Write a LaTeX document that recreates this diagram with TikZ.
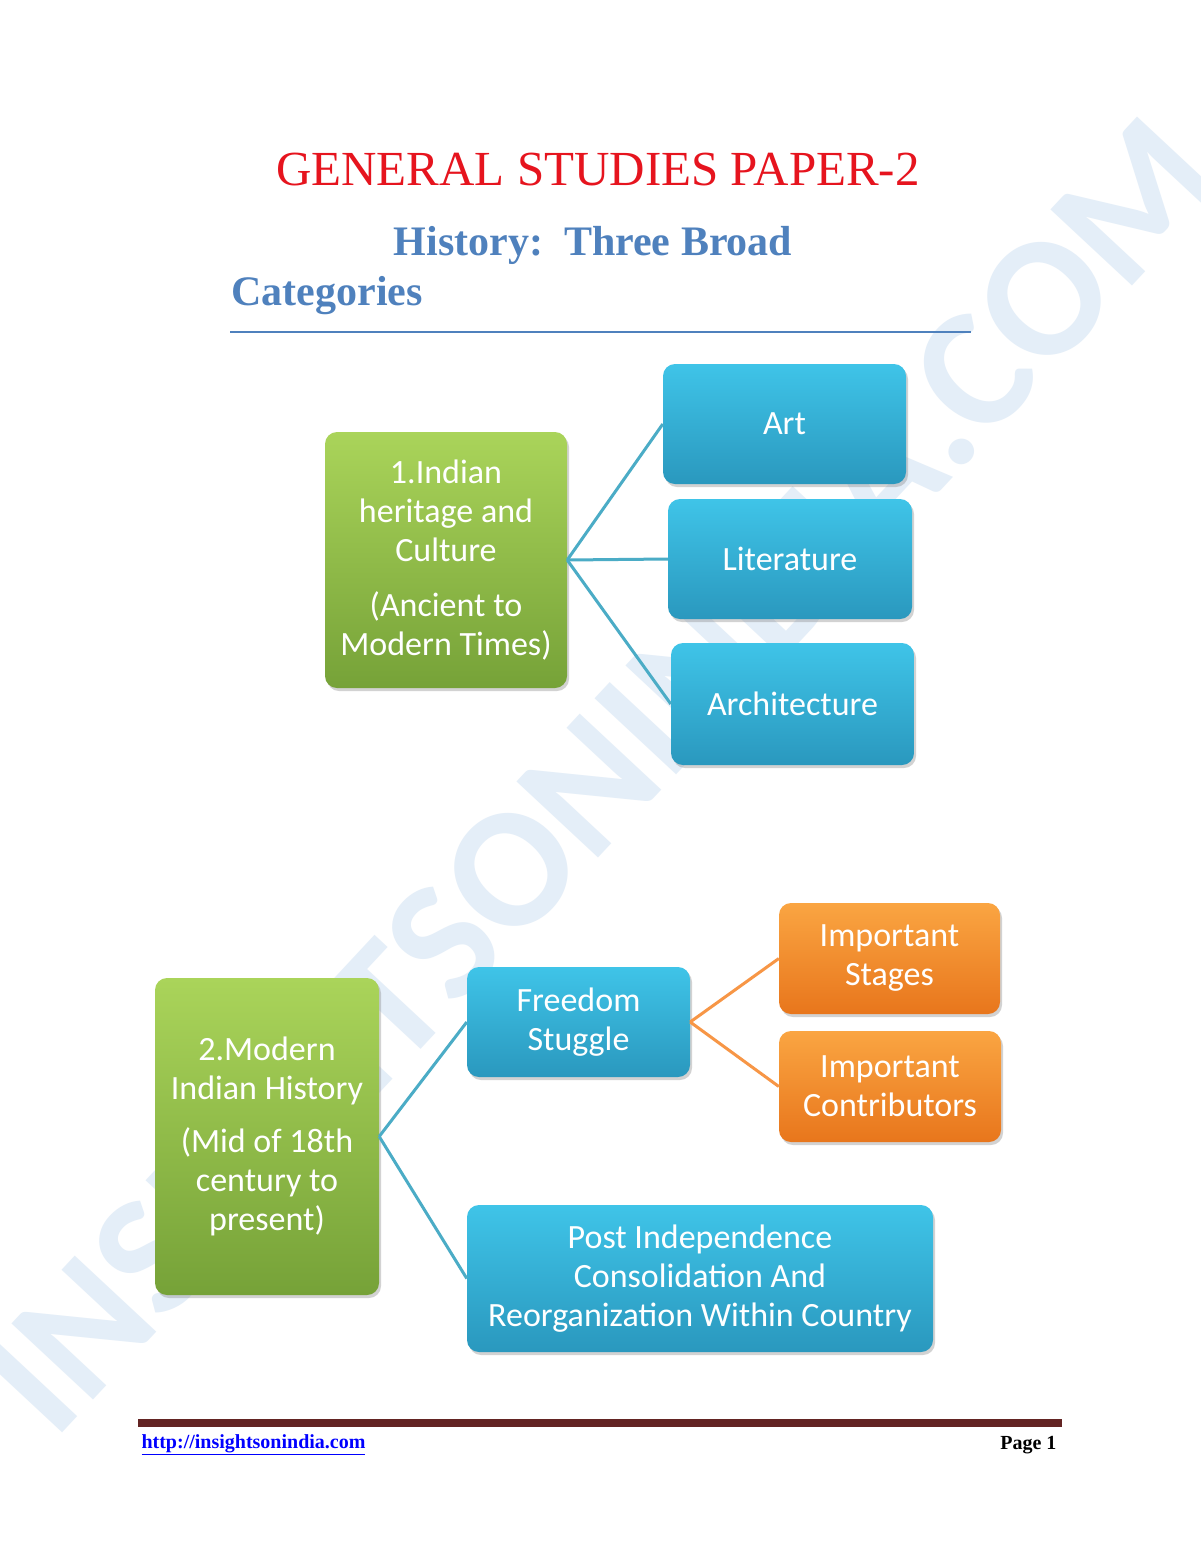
\documentclass[tikz,border=0pt]{standalone}
\usepackage{fontspec}
\setmainfont{Carlito}
\newfontfamily\serifx{Liberation Serif}
\usetikzlibrary{shadows}
\definecolor{gtop}{HTML}{AAD45A}\definecolor{gbot}{HTML}{76A238}
\definecolor{btop}{HTML}{3FC4E8}\definecolor{bbot}{HTML}{2A98BE}
\definecolor{otop}{HTML}{FAA542}\definecolor{obot}{HTML}{E8761C}
\definecolor{lineb}{HTML}{4BACC6}\definecolor{lineo}{HTML}{F79646}
\definecolor{wm}{HTML}{E4EEF8}
\tikzset{
 bx/.style={rounded corners=12pt,draw=none,text=white,align=center,inner sep=0pt,
   font=\fontsize{34}{39}\selectfont,drop shadow={shadow xshift=2pt,shadow yshift=-3pt,opacity=0.35}},
 gbox/.style={bx,top color=gtop,bottom color=gbot},
 bbox/.style={bx,top color=btop,bottom color=bbot},
 obox/.style={bx,top color=otop,bottom color=obot},
 cb/.style={draw=lineb,line width=3pt},
 co/.style={draw=lineo,line width=3pt}
}
\newcommand{\bxat}[6]{\node[#1,minimum width=#4pt-#2pt,minimum height=#5pt-#3pt] (#6) at ({(#2+#4)/2},{(#3+#5)/2})}
\begin{document}
\begin{tikzpicture}[x=1pt,y=-1pt]
\useasboundingbox[fill=white] (0,0) rectangle (1200,1553);
\node[rotate=47,text=wm,font=\fontsize{172}{172}\selectfont\bfseries] (wm) at (600,775) {INSIGHTSONINDIA.COM};
\node[text={rgb,255:red,230;green,20;blue,30},font=\serifx\fontsize{49}{52}\selectfont] (t1) at (598,170) {GENERAL STUDIES PAPER-2};
\node[text={rgb,255:red,79;green,129;blue,189},font=\serifx\bfseries\fontsize{42}{46}\selectfont] (t2) at (593,245) {History:\ \ Three Broad};
\node[anchor=west,text={rgb,255:red,79;green,129;blue,189},font=\serifx\bfseries\fontsize{42}{46}\selectfont] (t3) at (228,296) {Categories};
\draw[draw={rgb,255:red,79;green,129;blue,189},line width=2pt] (230,332) -- (971,332);

\bxat{gbox}{325}{432}{567}{688}{g1} {1.Indian\\heritage and\\Culture\\[16pt](Ancient to\\Modern Times)};
\bxat{bbox}{663}{364}{906}{484}{art} {Art};
\bxat{bbox}{668}{499}{912}{619}{lit} {Literature};
\bxat{bbox}{671}{643}{914}{765}{arch} {Architecture};
\draw[cb] (g1.east) -- (art.west);
\draw[cb] (g1.east) -- (lit.west);
\draw[cb] (g1.east) -- (arch.west);

\bxat{gbox}{155}{978}{379}{1295}{g2} {2.Modern\\Indian History\\[14pt](Mid of 18th\\century to\\present)};
\bxat{bbox}{467}{967}{690}{1077}{fs} {Freedom\\Stuggle};
\bxat{obox}{779}{903}{1000}{1014}{is} {Important\\Stages};
\bxat{obox}{779}{1031}{1001}{1142}{ic} {Important\\Contributors};
\bxat{bbox}{467}{1205}{933}{1352}{pi} {Post Independence\\Consolidation And\\Reorganization Within Country};
\draw[cb] (g2.east) -- (fs.west);
\draw[cb] (g2.east) -- (pi.west);
\draw[co] (fs.east) -- (is.west);
\draw[co] (fs.east) -- (ic.west);

\draw[draw={rgb,255:red,99;green,36;blue,35},line width=8pt] (138,1423) -- (1062,1423);
\node[anchor=west,text=blue,font=\serifx\bfseries\fontsize{20}{22}\selectfont] (url) at (138,1445) {\underline{http://insightsonindia.com}};
\node[anchor=east,font=\serifx\bfseries\fontsize{20}{22}\selectfont] (pg) at (1060,1445) {Page 1};
\end{tikzpicture}
\end{document}
